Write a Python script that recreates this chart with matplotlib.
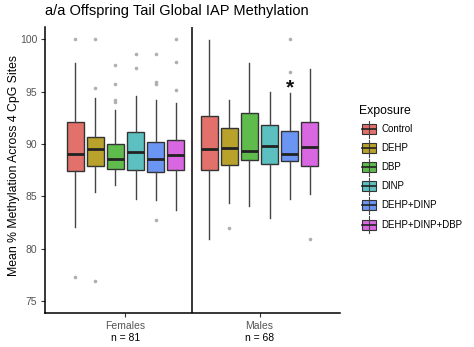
import numpy as np
import matplotlib
matplotlib.use("Agg")
import matplotlib.pyplot as plt
from matplotlib.patches import Rectangle

plt.rcParams["font.family"] = ["Liberation Sans", "DejaVu Sans"]

sexes = ["Females", "Males"]
n_labels = ["n = 81", "n = 68"]
exposures = ["Control", "DEHP", "DBP", "DINP", "DEHP+DINP", "DEHP+DINP+DBP"]
colors = ["#e2716b", "#b8a22c", "#5fbb4c", "#5dc0c0", "#6b95f3", "#d967e1"]

# five-number summaries per sex, one entry per exposure
f_whislo = [82.1, 85.4, 86.05, 84.75, 84.65, 83.7]
f_q1     = [87.4, 87.9, 87.6, 87.55, 87.35, 87.55]
f_med    = [89.05, 89.5, 88.6, 89.2, 88.6, 88.9]
f_q3     = [92.05, 90.65, 90.0, 91.1, 90.2, 90.4]
f_whishi = [97.7, 94.4, 93.2, 94.6, 94.2, 93.95]
f_fliers = [[100.0, 77.3], [100.0, 95.3, 76.9], [97.55, 95.75, 94.2, 94.05],
            [98.6, 97.3], [98.6, 95.9, 95.7, 82.7], [100.0, 97.8, 95.15]]

m_whislo = [80.9, 84.4, 84.1, 82.9, 84.75, 85.2]
m_q1     = [87.5, 88.0, 88.45, 88.05, 88.4, 87.85]
m_med    = [89.55, 89.6, 89.35, 89.8, 89.05, 89.75]
m_q3     = [92.7, 91.5, 92.95, 91.8, 91.2, 92.1]
m_whishi = [99.95, 94.15, 97.7, 94.95, 94.85, 97.2]
m_fliers = [[], [82.0], [], [], [100.0, 96.9], [80.95]]

star_value = 95.9   # significance marker over DEHP+DINP males

groups = [(f_whislo, f_q1, f_med, f_q3, f_whishi, f_fliers),
          (m_whislo, m_q1, m_med, m_q3, m_whishi, m_fliers)]

fig = plt.figure(figsize=(4.74, 3.47), dpi=100)
ax = fig.add_axes([45/474, 1 - 313.3/347, 295/474, (313.3 - 26.7)/347])

step = 0.15
width = 0.127
for gi, g in enumerate(groups):
    whislo, q1, med, q3, whishi, fliers = g
    for i in range(len(exposures)):
        pos = gi + 1 + (i - 2.5) * step
        st = [dict(whislo=whislo[i], q1=q1[i], med=med[i], q3=q3[i],
                   whishi=whishi[i], fliers=fliers[i])]
        ax.bxp(st, positions=[pos], widths=width, patch_artist=True,
               showcaps=False,
               boxprops=dict(facecolor=colors[i], edgecolor="#333333", lw=1.0),
               medianprops=dict(color="#222222", lw=2.0),
               whiskerprops=dict(color="#444444", lw=1.0),
               flierprops=dict(marker="o", ms=1.6, mfc="#b0b0b0", mec="#b0b0b0"))

# asterisk glyph sits high in its box, so nudge it down a few points
ax.annotate("*", (2 + 1.5 * step, star_value), xytext=(0, -4),
            textcoords="offset points", ha="center", va="center",
            fontsize=15, fontweight="bold", color="#111111")

ax.axvline(1.5, color="black", lw=1.1)
ax.set_xlim(0.4, 2.6)
ax.set_ylim(73.82, 101.2)
ax.set_yticks([75, 80, 85, 90, 95, 100])
ax.set_xticks([1, 2])
ax.set_xticklabels(sexes)
ax.tick_params(axis="both", labelsize=7.5, labelcolor="#555555", color="#333333",
               length=3, width=0.8, pad=2.5)
for s in ["top", "right"]:
    ax.spines[s].set_visible(False)
for s in ["left", "bottom"]:
    ax.spines[s].set_linewidth(1.1)
for i, lab in enumerate(n_labels):
    ax.text(i + 1, -0.07, lab, transform=ax.get_xaxis_transform(),
            ha="center", va="top", fontsize=7.5, color="black")

fig.text(14/474, 1 - 165/347, "Mean % Methylation Across 4 CpG Sites",
         fontsize=8.8, rotation=90, ha="center", va="center")
fig.text(45/474, 1 - 11.5/347, "a/a Offspring Tail Global IAP Methylation",
         fontsize=10.5, ha="left", va="center")

# legend drawn by hand so the keys look like little boxplots
lg = fig.add_axes([350/474, 0, 124/474, 1])
lg.set_xlim(350, 474)
lg.set_ylim(347, 0)
lg.axis("off")
lg.text(359, 111, "Exposure", fontsize=8.8, va="center", ha="left")
for i, (name, c) in enumerate(zip(exposures, colors)):
    yc = 129 + i * 19.1
    lg.plot([368.5, 368.5], [yc - 8.5, yc + 8.5], color="#444444", lw=0.8)
    lg.add_patch(Rectangle((361.5, yc - 5), 14, 10, facecolor=c,
                           edgecolor="#333333", lw=0.8))
    lg.plot([361.5, 375.5], [yc, yc], color="#222222", lw=1.2)
    lg.text(381, yc, name, fontsize=7, va="center", ha="left")

fig.savefig("out.png", dpi=100)
